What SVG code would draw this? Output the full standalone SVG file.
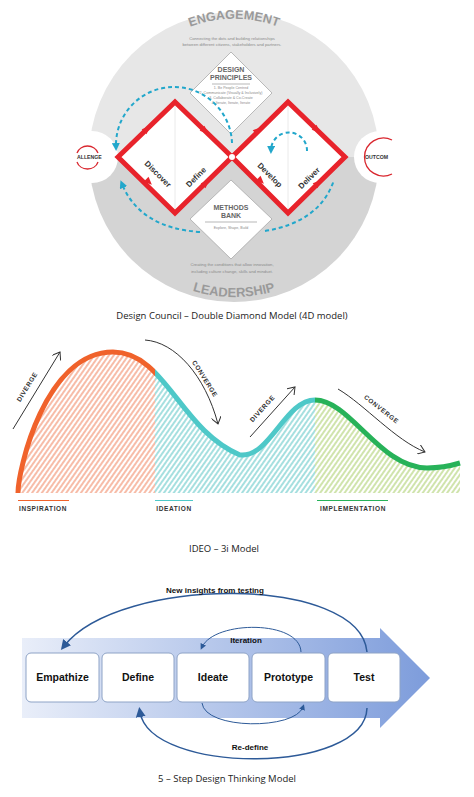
<svg xmlns="http://www.w3.org/2000/svg" width="474" height="797" viewBox="0 0 474 797">
<style>
.sans{font-family:"Liberation Sans",Arial,sans-serif}
.cap{font-family:"Open Sans","Liberation Sans",sans-serif;font-size:9.5px;fill:#222}
.grey{fill:#9a9a9a;font-weight:bold}
.small{font-family:"Liberation Sans",sans-serif;fill:#8a8a8a;text-anchor:middle}
.red{fill:none;stroke:#e8232b;stroke-width:5;stroke-linejoin:miter}
.cy{fill:none;stroke:#22a7cb;stroke-width:2;stroke-dasharray:4 3}
.dlab{font-family:"Liberation Sans",sans-serif;font-weight:bold;font-size:8px;fill:#333;text-anchor:middle}
.ideo{font-family:"Liberation Sans",sans-serif;font-weight:bold;font-size:6.5px;fill:#333;letter-spacing:0.6px;text-anchor:middle}
.blk{fill:none;stroke:#333;stroke-width:1}
.box{fill:#fff;stroke:#8ea3c6;stroke-width:1}
.bt{font-family:"Liberation Sans",Arial,sans-serif;font-weight:bold;font-size:10.5px;fill:#111;text-anchor:middle}
.bl{font-family:"Liberation Sans",Arial,sans-serif;font-weight:bold;font-size:8px;fill:#111;text-anchor:middle}
.dark{fill:none;stroke:#2d5a98;stroke-width:1.5}
.thin{fill:none;stroke:#2d5a98;stroke-width:1}
</style>
<defs>
<path id="rh" d="M-4,-3.5 L4,0 L-4,3.5 Z" fill="#e8232b"/>
<marker id="cyh" markerWidth="8" markerHeight="8" refX="4" refY="4" orient="auto" markerUnits="userSpaceOnUse"><path d="M0,0 L8,4 L0,8 Z" fill="#22a7cb"/></marker>
<marker id="open" markerWidth="8" markerHeight="10" refX="7" refY="5" orient="auto" markerUnits="userSpaceOnUse"><path d="M0,0 L7,5 L0,10" fill="none" stroke="#333" stroke-width="1"/></marker>
<marker id="bh" markerWidth="10" markerHeight="10" refX="5" refY="5" orient="auto" markerUnits="userSpaceOnUse"><path d="M0,0 L10,5 L0,10 Z" fill="#2d5a98"/></marker>
<marker id="sh" markerWidth="6" markerHeight="6" refX="3" refY="3" orient="auto" markerUnits="userSpaceOnUse"><path d="M0,0 L6,3 L0,6 Z" fill="#2d5a98"/></marker>
<pattern id="hO" width="4" height="4" patternUnits="userSpaceOnUse" patternTransform="rotate(35)"><line x1="1" y1="0" x2="1" y2="4" stroke="#f4a083" stroke-width="1.4"/></pattern>
<pattern id="hT" width="4" height="4" patternUnits="userSpaceOnUse" patternTransform="rotate(35)"><line x1="1" y1="0" x2="1" y2="4" stroke="#80d2d2" stroke-width="1.4"/></pattern>
<pattern id="hG" width="4" height="4" patternUnits="userSpaceOnUse" patternTransform="rotate(35)"><line x1="1" y1="0" x2="1" y2="4" stroke="#bcd98a" stroke-width="1.4"/></pattern>
<clipPath id="cO"><rect x="0" y="330" width="155" height="180"/></clipPath>
<clipPath id="cT"><rect x="155" y="330" width="160" height="180"/></clipPath>
<clipPath id="cG"><rect x="315" y="330" width="159" height="180"/></clipPath>
<linearGradient id="ag" x1="0" y1="0" x2="1" y2="0"><stop offset="0" stop-color="#e9eef9"/><stop offset="1" stop-color="#7d9cdb"/></linearGradient>
<path id="engArc" d="M144,57 A125,125 0 0 1 324,57"/>
<path id="leadArc" d="M154,272.1 A141,141 0 0 0 314,272.1"/>
</defs>
<rect width="474" height="797" fill="#fff"/>

<!-- Double diamond -->
<g id="circle">
<path d="M89,157 A145,145 0 0 1 379,157 Z" fill="#e7e7e7"/>
<path d="M89,157 A145,145 0 0 0 379,157 Z" fill="#d4d4d4"/>
<text class="sans grey" font-size="12.5" text-anchor="middle"><textPath href="#engArc" startOffset="50%">ENGAGEMENT</textPath></text>
<text class="small" font-size="4.2" x="232" y="40">Connecting the dots and building relationships</text>
<text class="small" font-size="4.2" x="232" y="46">between different citizens, stakeholders and partners.</text>
<text class="sans grey" font-size="13" text-anchor="middle"><textPath href="#leadArc" startOffset="50%">LEADERSHIP</textPath></text>
<text class="small" font-size="4.2" x="232" y="266">Creating the conditions that allow innovation,</text>
<text class="small" font-size="4.2" x="232" y="273">including culture change, skills and mindset.</text>
</g>
<g id="challenge">
<circle cx="92" cy="157" r="26" fill="#fff"/>
<path d="M77,153 A11,10 0 0 1 98,153" fill="none" stroke="#d9262e" stroke-width="1.3"/>
<path d="M77,162 A11,10 0 0 0 98,162" fill="none" stroke="#d9262e" stroke-width="1.3"/>
<text class="sans" font-size="5.2" font-weight="bold" fill="#333" x="77" y="159">ALLENGE</text>
</g>
<g id="outcome">
<circle cx="380" cy="157" r="26" fill="#fff"/>
<path d="M392,140 A19,19 0 1 0 392,174" fill="none" stroke="#d9262e" stroke-width="1.3"/>
<text class="sans" font-size="5.2" font-weight="bold" fill="#333" x="365" y="159">OUTCOM</text>
</g>
<g id="diamond-left">
<path d="M118,157 L175,102 L232,157 L175,213 Z" fill="#fff"/>
<line x1="175" y1="104" x2="175" y2="211" stroke="#e4e4e4" stroke-width="0.8"/>
<path class="red" d="M118,157 L175,102 L232,157 L175,213 Z"/>
<use href="#rh" transform="translate(147,129) rotate(-44)"/>
<use href="#rh" transform="translate(205,131) rotate(44)"/>
<use href="#rh" transform="translate(149,182) rotate(44)"/>
<use href="#rh" transform="translate(206,183) rotate(-44)"/>
<text class="dlab" transform="translate(156,176) rotate(45)">Discover</text>
<text class="dlab" transform="translate(198,179) rotate(-45)">Define</text>
</g>
<g id="diamond-right">
<path d="M232,157 L288,102 L345,157 L288,213 Z" fill="#fff"/>
<line x1="288" y1="104" x2="288" y2="211" stroke="#e4e4e4" stroke-width="0.8"/>
<path class="red" d="M232,157 L288,102 L345,157 L288,213 Z"/>
<use href="#rh" transform="translate(258,130) rotate(-44)"/>
<use href="#rh" transform="translate(317,130) rotate(44)"/>
<use href="#rh" transform="translate(261,181) rotate(44)"/>
<use href="#rh" transform="translate(318,183) rotate(-44)"/>
<text class="dlab" transform="translate(268,177) rotate(45)">Develop</text>
<text class="dlab" transform="translate(311,180) rotate(-45)">Deliver</text>
<circle cx="232" cy="157" r="3" fill="#fff"/>
</g>
<g id="design-principles">
<path d="M231,52 L272,93 L231,134 L190,93 Z" fill="#fff" stroke="#aaa" stroke-width="0.8"/>
<text class="sans" font-size="7" font-weight="bold" fill="#666" text-anchor="middle" x="231" y="72">DESIGN</text>
<text class="sans" font-size="7" font-weight="bold" fill="#666" text-anchor="middle" x="231" y="80">PRINCIPLES</text>
<line x1="212" y1="84" x2="250" y2="84" stroke="#888" stroke-width="0.6"/>
<text class="small" font-size="3.6" fill="#555" x="231" y="89">1. Be People Centred</text>
<text class="small" font-size="3.6" fill="#555" x="231" y="94">2. Communicate (Visually &amp; Inclusively)</text>
<text class="small" font-size="3.6" fill="#555" x="231" y="99">3. Collaborate &amp; Co-Create</text>
<text class="small" font-size="3.6" fill="#555" x="231" y="104">4. Iterate, Iterate, Iterate</text>
</g>
<g id="methods-bank">
<path d="M231,180 L272,219 L231,259 L190,219 Z" fill="#fff" stroke="#aaa" stroke-width="0.8"/>
<text class="sans" font-size="7" font-weight="bold" fill="#666" text-anchor="middle" x="231" y="210">METHODS</text>
<text class="sans" font-size="7" font-weight="bold" fill="#666" text-anchor="middle" x="231" y="218">BANK</text>
<line x1="205" y1="222" x2="257" y2="222" stroke="#888" stroke-width="0.6"/>
<text class="small" font-size="3.6" fill="#666" x="231" y="229">Explore, Shape, Build</text>
</g>
<g id="dd-connectors">
<path class="cy" d="M232,143 A58,58 0 0 0 116,147" marker-end="url(#cyh)"/>
<path class="cy" d="M200,232 Q140,228 122,184" marker-end="url(#cyh)"/>
<path class="cy" d="M265,231 Q320,222 334,180"/>
<path class="cy" d="M307,151 A18,18 0 0 0 271,150" marker-end="url(#cyh)"/>
</g>
<text class="cap" x="232" y="319" text-anchor="middle">Design Council – Double Diamond Model (4D model)</text>

<!-- IDEO 3i -->
<g id="ideo-curve">
<path d="M18,493 C18,470 45,352 113,352 C165,352 180,430 240,455 C270,458 285,400 315,400 C350,400 380,468 427,468 C440,468 450,466 460,463 L460,493 Z" fill="url(#hO)" clip-path="url(#cO)"/>
<path d="M18,493 C18,470 45,352 113,352 C165,352 180,430 240,455 C270,458 285,400 315,400 C350,400 380,468 427,468 C440,468 450,466 460,463 L460,493 Z" fill="url(#hT)" clip-path="url(#cT)"/>
<path d="M18,493 C18,470 45,352 113,352 C165,352 180,430 240,455 C270,458 285,400 315,400 C350,400 380,468 427,468 C440,468 450,466 460,463 L460,493 Z" fill="url(#hG)" clip-path="url(#cG)"/>
<path d="M18,493 C18,470 45,352 113,352 C165,352 180,430 240,455 C270,458 285,400 315,400 C350,400 380,468 427,468 C440,468 450,466 460,463" fill="none" stroke="#f0622b" stroke-width="5" clip-path="url(#cO)"/>
<path d="M18,493 C18,470 45,352 113,352 C165,352 180,430 240,455 C270,458 285,400 315,400 C350,400 380,468 427,468 C440,468 450,466 460,463" fill="none" stroke="#4ec8c8" stroke-width="5" clip-path="url(#cT)"/>
<path d="M18,493 C18,470 45,352 113,352 C165,352 180,430 240,455 C270,458 285,400 315,400 C350,400 380,468 427,468 C440,468 450,466 460,463" fill="none" stroke="#27b259" stroke-width="5" clip-path="url(#cG)"/>
</g>
<g id="ideo-labels">
<line x1="18" y1="500.5" x2="69" y2="500.5" stroke="#f0622b" stroke-width="1.2"/>
<text class="ideo" x="43" y="511">INSPIRATION</text>
<line x1="155" y1="500.5" x2="193" y2="500.5" stroke="#4ec8c8" stroke-width="1.2"/>
<text class="ideo" x="174" y="511">IDEATION</text>
<line x1="317" y1="500.5" x2="388" y2="500.5" stroke="#27b259" stroke-width="1.2"/>
<text class="ideo" x="353" y="511">IMPLEMENTATION</text>
</g>
<g id="ideo-arrows">
<line class="blk" x1="13" y1="429" x2="60" y2="352" marker-end="url(#open)"/>
<text class="ideo" transform="translate(29,388) rotate(-58.6)">DIVERGE</text>
<path class="blk" d="M145,340 C175,342 205,375 218,424" marker-end="url(#open)"/>
<text class="ideo" transform="translate(203,380) rotate(58)">CONVERGE</text>
<line class="blk" x1="250" y1="437" x2="295" y2="387" marker-end="url(#open)"/>
<text class="ideo" transform="translate(264,410) rotate(-48)">DIVERGE</text>
<path class="blk" d="M338,389 C365,405 395,440 425,452" marker-end="url(#open)"/>
<text class="ideo" transform="translate(380,411) rotate(38)">CONVERGE</text>
</g>
<text class="cap" x="224" y="552" text-anchor="middle">IDEO – 3i Model</text>

<!-- 5 step -->
<g id="big-arrow">
<path d="M22,638 L380,638 L380,628 L430,678 L380,728 L380,718 L22,718 Z" fill="url(#ag)"/>
</g>
<g id="empathize"><rect class="box" x="26" y="653" width="73" height="49" rx="5"/><text class="bt" x="62.5" y="681">Empathize</text></g>
<g id="define"><rect class="box" x="102" y="653" width="72" height="49" rx="5"/><text class="bt" x="138" y="681">Define</text></g>
<g id="ideate"><rect class="box" x="177" y="653" width="72" height="49" rx="5"/><text class="bt" x="213" y="681">Ideate</text></g>
<g id="prototype"><rect class="box" x="252" y="653" width="73" height="49" rx="5"/><text class="bt" x="288.5" y="681">Prototype</text></g>
<g id="test"><rect class="box" x="328" y="653" width="72" height="49" rx="5"/><text class="bt" x="364" y="681">Test</text></g>
<g id="dt-connectors">
<path class="dark" d="M367,652 C360,575 120,575 64,646" marker-end="url(#bh)"/>
<path class="thin" d="M301,652 C300,620 215,620 202,647" marker-end="url(#sh)"/>
<path class="thin" d="M202,703 C205,730 295,730 303,707" marker-end="url(#sh)"/>
<path class="dark" d="M367,708 C365,775 150,775 140,712" marker-end="url(#bh)"/>
<text class="bl" x="215" y="593">New insights from testing</text>
<text class="bl" x="246" y="643" font-size="7">Iteration</text>
<text class="bl" x="250" y="750">Re-define</text>
</g>
<text class="cap" x="227" y="782" text-anchor="middle">5 – Step Design Thinking Model</text>
</svg>
